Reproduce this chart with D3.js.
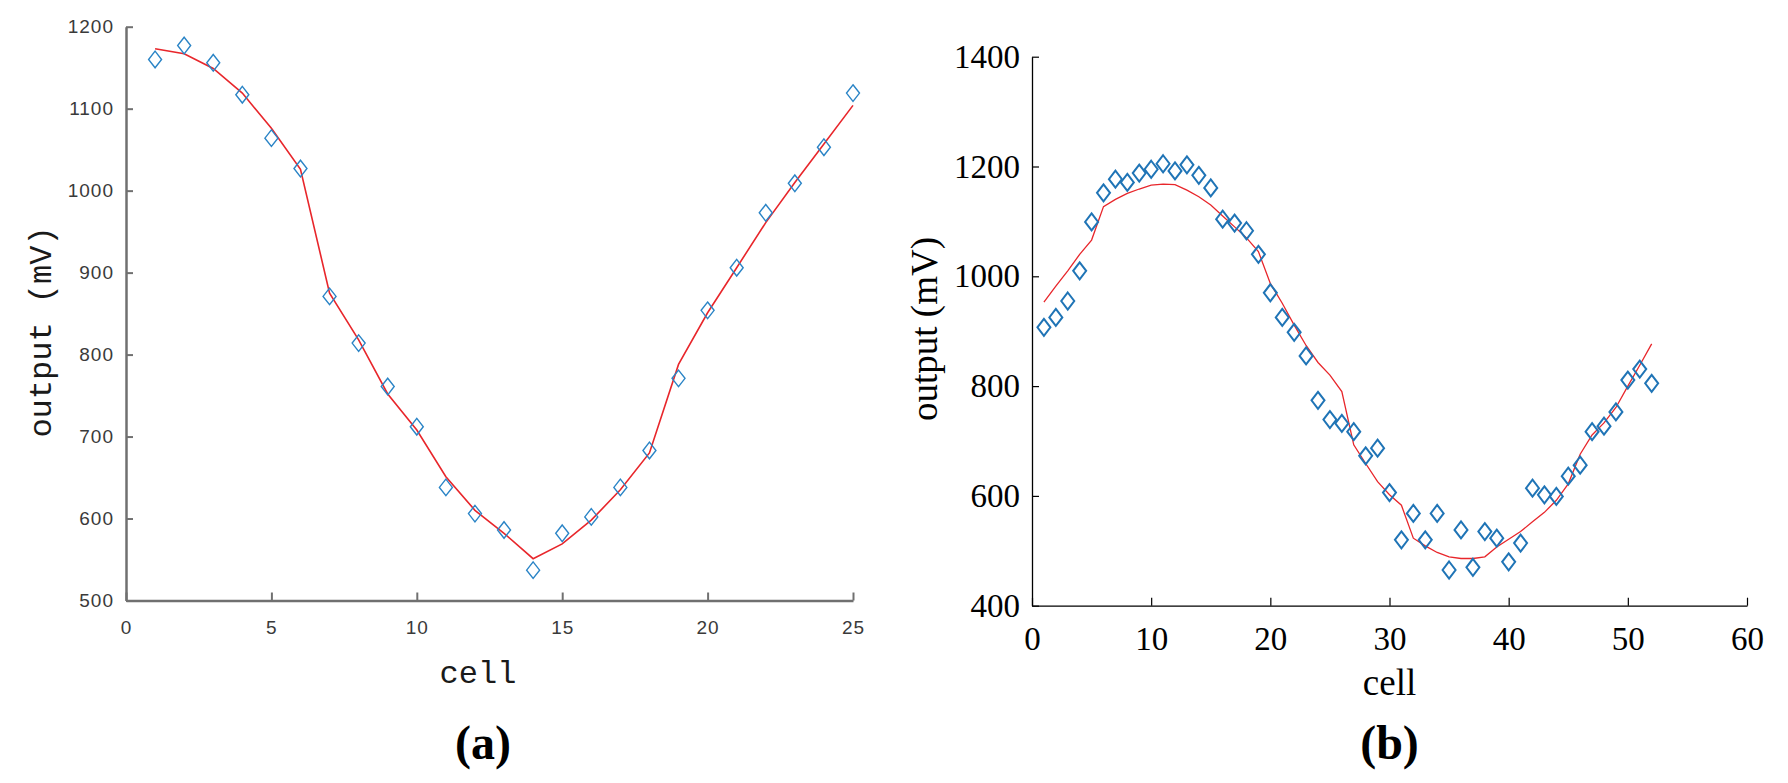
<!DOCTYPE html>
<html>
<head>
<meta charset="utf-8">
<script src="https://cdn.jsdelivr.net/npm/d3@7"></script>
<style>
  html, body { margin: 0; padding: 0; background: #ffffff; }
  svg { display: block; }
</style>
</head>
<body>
<div id="chart"></div>
<script>
// --- panel (a) data ---
const cellsA = [1, 2, 3, 4, 5, 6, 7, 8, 9, 10, 11, 12, 13, 14, 15, 16, 17, 18, 19, 20, 21, 22, 23, 24, 25];
const measuredA = [1160, 1177, 1156, 1117, 1064, 1027, 871, 814, 761, 712, 638, 606, 586, 537, 582, 602, 638, 683, 771, 854, 906, 973, 1009, 1053, 1119];
const fittedA = [1173, 1167, 1149, 1119, 1076, 1026, 875, 818, 752, 708, 651, 610, 582, 551, 569, 598, 635, 680, 788, 851, 906, 961, 1010, 1057, 1104];
const xTicksA = [0, 5, 10, 15, 20, 25];
const yTicksA = [500, 600, 700, 800, 900, 1000, 1100, 1200];

// --- panel (b) data ---
const cellsB = [1, 2, 3, 4, 5, 6, 7, 8, 9, 10, 11, 12, 13, 14, 15, 16, 17, 18, 19, 20, 21, 22, 23, 24, 25, 26,
  27, 28, 29, 30, 31, 32, 33, 34, 35, 36, 37, 38, 39, 40, 41, 42, 43, 44, 45, 46, 47, 48, 49, 50, 51, 52];
const measuredB = [907, 925, 955, 1010, 1099, 1152, 1177, 1171, 1188, 1195, 1205, 1192, 1203, 1184, 1161, 1104, 1097, 1083, 1040, 970,
  925, 898, 855, 774, 739, 732, 717, 673, 687, 606, 520, 568, 520, 568, 465, 538, 470, 535, 523, 480,
  514, 614, 602, 599, 636, 656, 717, 727, 753, 811, 831, 805];
const fittedB = [953, 982, 1010, 1040, 1066, 1127, 1140, 1151, 1159, 1166, 1168, 1167, 1157, 1145, 1130, 1110, 1090, 1070, 1045, 987,
  951, 911, 874, 843, 820, 790, 693, 659, 626, 602, 583, 523, 509, 497, 489, 486, 486, 489, 507, 521,
  535, 553, 570, 592, 622, 676, 711, 733, 761, 800, 838, 877];
const xTicksB = [0, 10, 20, 30, 40, 50, 60];
const yTicksB = [400, 600, 800, 1000, 1200, 1400];

const W = 1788, H = 783;
const blue = "#1f74b6";
const red = "#e8262b";
const fmt = d3.format("d");

const svg = d3.select("#chart").append("svg")
  .attr("width", W).attr("height", H)
  .style("background", "#ffffff");

const diamond = (w, h) => `M0,${-h}L${w},0L0,${h}L${-w},0Z`;

// ================= (a) =================
const xA = d3.scaleLinear().domain([0, 25]).range([126, 853]);
const yA = d3.scaleLinear().domain([500, 1200]).range([600.5, 26.7]);
const gA = svg.append("g");

const axisColA = "#707070";
const tickFontA = "'Liberation Sans', Arial, sans-serif";
const monoFont = "'Liberation Mono', 'Courier New', monospace";

const xAxA = gA.append("g")
  .attr("transform", `translate(0,${yA(500)})`)
  .call(d3.axisBottom(xA).tickValues(xTicksA).tickFormat(fmt).tickSizeInner(-8).tickSizeOuter(0).tickPadding(20));
const yAxA = gA.append("g")
  .attr("transform", `translate(${xA(0)},0)`)
  .call(d3.axisLeft(yA).tickValues(yTicksA).tickFormat(fmt).tickSizeInner(-7).tickSizeOuter(0).tickPadding(12));

[xAxA, yAxA].forEach(ax => {
  ax.select(".domain").attr("stroke", axisColA).attr("stroke-width", 2.5);
  ax.selectAll(".tick line").attr("stroke", axisColA).attr("stroke-width", 2);
  ax.selectAll(".tick text")
    .attr("fill", "#3a3a3a")
    .style("font-family", tickFontA)
    .style("font-size", "19px")
    .style("letter-spacing", "1px");
});

const lineA = d3.line().x((d, i) => xA(cellsA[i])).y(d => yA(d));
gA.append("path")
  .datum(fittedA)
  .attr("d", lineA)
  .attr("fill", "none")
  .attr("stroke", red)
  .attr("stroke-width", 1.6);

gA.selectAll(".ptA").data(measuredA).enter().append("path")
  .attr("class", "ptA")
  .attr("transform", (d, i) => `translate(${xA(cellsA[i])},${yA(d)})`)
  .attr("d", diamond(6.5, 8.3))
  .attr("fill", "none")
  .attr("stroke", "#2a84c6")
  .attr("stroke-width", 1.4);

// axis titles (a)
gA.append("text")
  .attr("transform", "translate(51,332) rotate(-90)")
  .attr("text-anchor", "middle")
  .style("font-family", monoFont)
  .style("font-size", "32px")
  .attr("fill", "#1a1a1a")
  .text("output (mV)");

gA.append("text")
  .attr("x", 478).attr("y", 683)
  .attr("text-anchor", "middle")
  .style("font-family", monoFont)
  .style("font-size", "32px")
  .attr("fill", "#1a1a1a")
  .text("cell");

gA.append("text")
  .attr("x", 483).attr("y", 759)
  .attr("text-anchor", "middle")
  .style("font-family", "'Liberation Serif', 'Times New Roman', serif")
  .style("font-weight", "bold")
  .style("font-size", "48px")
  .attr("fill", "#000")
  .text("(a)");

// ================= (b) =================
const xB = d3.scaleLinear().domain([0, 60]).range([1032, 1747]);
const yB = d3.scaleLinear().domain([400, 1400]).range([605.7, 56.7]);
const gB = svg.append("g");
const serif = "'Liberation Serif', 'Times New Roman', serif";

const xAxB = gB.append("g")
  .attr("transform", `translate(0,${yB(400)})`)
  .call(d3.axisBottom(xB).tickValues(xTicksB).tickFormat(fmt).tickSizeInner(-8).tickSizeOuter(0).tickPadding(21));
const yAxB = gB.append("g")
  .attr("transform", `translate(${xB(0)},0)`)
  .call(d3.axisLeft(yB).tickValues(yTicksB).tickFormat(fmt).tickSizeInner(-7).tickSizeOuter(0).tickPadding(12));

[xAxB, yAxB].forEach(ax => {
  ax.select(".domain").attr("stroke", "#000").attr("stroke-width", 1.3);
  ax.selectAll(".tick line").attr("stroke", "#000").attr("stroke-width", 1.2);
  ax.selectAll(".tick text")
    .attr("fill", "#000")
    .style("font-family", serif)
    .style("font-size", "33px");
});

const lineB = d3.line().x((d, i) => xB(cellsB[i])).y(d => yB(d));
gB.append("path")
  .datum(fittedB)
  .attr("d", lineB)
  .attr("fill", "none")
  .attr("stroke", red)
  .attr("stroke-width", 1.3);

gB.selectAll(".ptB").data(measuredB).enter().append("path")
  .attr("class", "ptB")
  .attr("transform", (d, i) => `translate(${xB(cellsB[i])},${yB(d)})`)
  .attr("d", diamond(6.5, 8.5))
  .attr("fill", "none")
  .attr("stroke", blue)
  .attr("stroke-width", 2);

gB.append("text")
  .attr("transform", "translate(937,329) rotate(-90)")
  .attr("text-anchor", "middle")
  .style("font-family", serif)
  .style("font-size", "37px")
  .attr("fill", "#000")
  .text("output (mV)");

gB.append("text")
  .attr("x", xB(30)).attr("y", 695)
  .attr("text-anchor", "middle")
  .style("font-family", serif)
  .style("font-size", "37px")
  .attr("fill", "#000")
  .text("cell");

gB.append("text")
  .attr("x", xB(30)).attr("y", 759)
  .attr("text-anchor", "middle")
  .style("font-family", serif)
  .style("font-weight", "bold")
  .style("font-size", "48px")
  .attr("fill", "#000")
  .text("(b)");
</script>
</body>
</html>
